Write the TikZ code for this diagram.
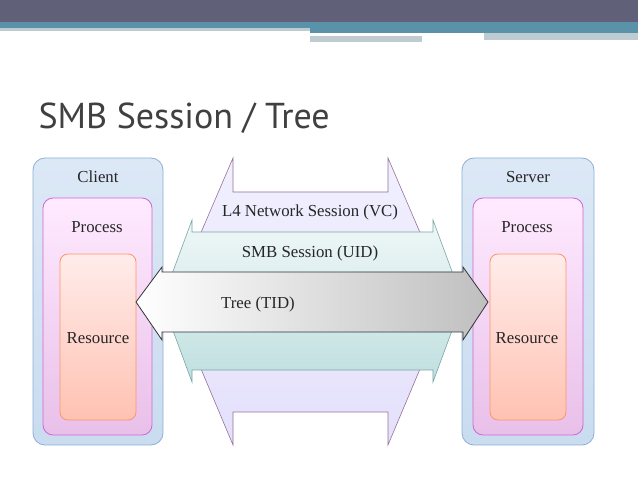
\documentclass[tikz,border=0pt]{standalone}
\usepackage{fontspec}
\setmainfont{Liberation Serif}
\newfontfamily\titlefont{PT Sans}
\definecolor{obox}{HTML}{DCE8F6}
\definecolor{obox2}{HTML}{C9DCF0}
\definecolor{oedge}{HTML}{8DB0D4}
\begin{document}
\begin{tikzpicture}[x=1pt,y=-1pt,
  lbl/.style={font=\fontsize{16.8}{18}\selectfont, text=black!85},
  outer/.style={draw=oedge, line width=0.8pt, rounded corners=12pt, top color=obox, bottom color=obox2},
  proc/.style={draw=violet!60!magenta!60, line width=0.8pt, rounded corners=10pt, top color=magenta!8, bottom color=magenta!30!violet!25},
  res/.style={draw=orange!60!red!60, line width=0.8pt, rounded corners=8pt, top color=orange!15!red!8, bottom color=orange!40!red!30}]
\useasboundingbox (0,0) rectangle (638,478);
\fill[white] (0,0) rectangle (638,478);
% top bar
\fill[black!60!blue!25!gray] (0,0) rectangle (638,22);
\fill[cyan!40!teal!70!gray] (0,22) rectangle (638,28);
\fill[cyan!20!gray!50] (0,28) rectangle (310,31);
\fill[cyan!40!teal!70!gray] (310,28) rectangle (638,33);
\fill[cyan!20!gray!50] (310,36) rectangle (422,42);
\fill[cyan!20!gray!50] (484,33) rectangle (638,40);
% title
\node[anchor=west, font=\titlefont\fontsize{36}{38}\selectfont, text=black!75] (title) at (35,118) {SMB Session / Tree};
% client
\node[outer, minimum width=130, minimum height=287] (client) at (98,301.5) {};
\node[proc, minimum width=109, minimum height=237] (cproc) at (97.5,316.5) {};
\node[res, minimum width=76, minimum height=166] (cres) at (98,337) {};
\node[lbl] (clbl) at (98,177) {Client};
\node[lbl] (cplbl) at (97,227) {Process};
\node[lbl] (crlbl) at (98,338) {Resource};
% server
\node[outer, minimum width=132, minimum height=287] (server) at (528,301.5) {};
\node[proc, minimum width=110, minimum height=237] (sproc) at (528,316.5) {};
\node[res, minimum width=76, minimum height=166] (sres) at (528,337) {};
\node[lbl] (slbl) at (528,177) {Server};
\node[lbl] (splbl) at (527,227) {Process};
\node[lbl] (srlbl) at (527,338) {Resource};
% L4 arrow
\draw[draw=violet!40!gray!80, line width=0.6pt, top color=violet!12!blue!6, bottom color=violet!25!blue!12]
 (233,158) -- (233,192) -- (388,192) -- (388,158) -- (449,300) -- (388,445) -- (388,412) -- (233,412) -- (233,445) -- (172,300) -- cycle;
% SMB arrow
\draw[draw=teal!50!gray!70, line width=0.6pt, top color=teal!6!white, bottom color=teal!25!white]
 (162,301) -- (192,220) -- (192,232) -- (433,232) -- (433,220) -- (463,301) -- (433,382) -- (433,370) -- (192,370) -- (192,382) -- cycle;
% Tree arrow
\draw[draw=black!80, line width=0.8pt, left color=white, right color=black!25]
 (136,302) -- (162,267) -- (162,272) -- (463,272) -- (463,267) -- (488,302) -- (463,340) -- (463,332) -- (162,332) -- (162,340) -- cycle;
\node[lbl] (l4) at (310,212) {L4 Network Session (VC)};
\node[lbl] (smb) at (310,253) {SMB Session (UID)};
\node[lbl] (tree) at (258,304) {Tree (TID)};
\end{tikzpicture}
\end{document}
